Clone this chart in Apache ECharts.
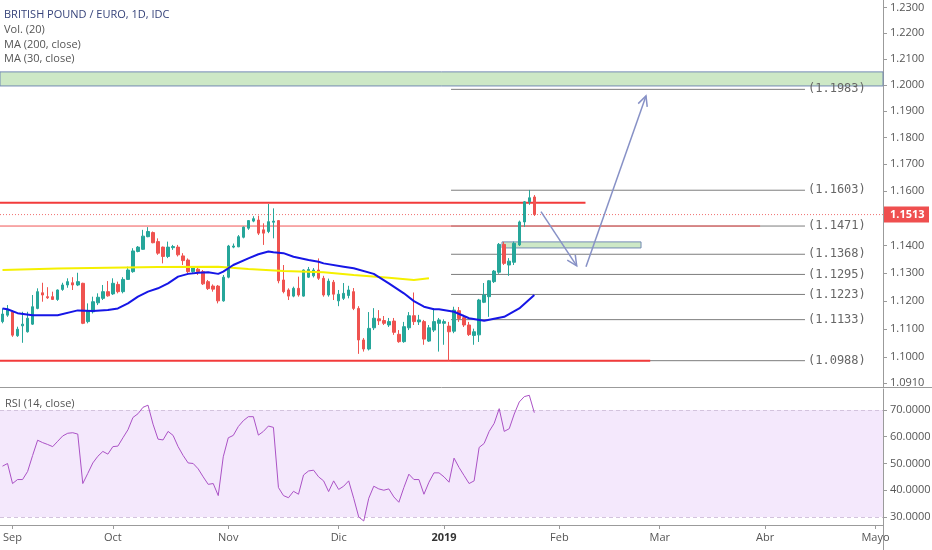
<!DOCTYPE html>
<html>
<head>
<meta charset="utf-8">
<script src="https://cdn.jsdelivr.net/npm/echarts@6/dist/echarts.min.js"></script>
<style>
html,body{margin:0;padding:0;background:#fff}
#chart{width:932px;height:550px}
</style>
</head>
<body>
<div id="chart"></div>
<script>
// daily GBP/EUR candles, one per weekday starting 2018-08-30
var opens = [1.1126,1.1149,1.1161,1.1076,1.1111,1.1090,1.1117,1.1173,1.1229,1.1215,
1.1215,1.1205,1.1241,1.1257,1.1265,1.1257,1.1263,1.1126,1.1161,1.1193,
1.1209,1.1233,1.1225,1.1259,1.1233,1.1277,1.1305,1.1378,1.1386,1.1432,
1.1447,1.1414,1.1394,1.1360,1.1392,1.1394,1.1362,1.1347,1.1305,1.1314,
1.1305,1.1269,1.1253,1.1253,1.1200,1.1285,1.1394,1.1395,1.1430,1.1463,
1.1489,1.1493,1.1457,1.1451,1.1485,1.1491,1.1275,1.1239,1.1217,1.1245,
1.1217,1.1285,1.1290,1.1311,1.1281,1.1221,1.1267,1.1200,1.1209,1.1219,
1.1233,1.1173,1.1061,1.1029,1.1104,1.1136,1.1130,1.1114,1.1128,1.1081,
1.1055,1.1104,1.1147,1.1125,1.1126,1.1057,1.1096,1.1120,1.1120,1.1110,
1.1092,1.1165,1.1140,1.1114,1.1077,1.1079,1.1195,1.1215,1.1269,1.1303,
1.1404,1.1329,1.1339,1.1402,1.1486,1.1560,1.1578];
var highs = [1.1173,1.1185,1.1167,1.1108,1.1161,1.1161,1.1221,1.1245,1.1265,1.1249,
1.1233,1.1241,1.1265,1.1281,1.1285,1.1301,1.1265,1.1191,1.1215,1.1227,
1.1257,1.1271,1.1281,1.1269,1.1285,1.1323,1.1390,1.1398,1.1457,1.1467,
1.1451,1.1426,1.1396,1.1414,1.1402,1.1402,1.1372,1.1353,1.1325,1.1325,
1.1311,1.1275,1.1259,1.1257,1.1293,1.1402,1.1407,1.1438,1.1469,1.1493,
1.1507,1.1509,1.1481,1.1552,1.1536,1.1493,1.1329,1.1245,1.1251,1.1287,
1.1313,1.1322,1.1318,1.1353,1.1290,1.1280,1.1275,1.1239,1.1264,1.1254,
1.1246,1.1181,1.1068,1.1160,1.1174,1.1167,1.1146,1.1139,1.1139,1.1096,
1.1125,1.1160,1.1230,1.1150,1.1132,1.1114,1.1174,1.1139,1.1134,1.1125,
1.1179,1.1178,1.1150,1.1125,1.1101,1.1207,1.1264,1.1275,1.1311,1.1409,
1.1413,1.1354,1.1414,1.1491,1.1563,1.1604,1.1585];
var lows = [1.1120,1.1143,1.1072,1.1072,1.1051,1.1087,1.1114,1.1170,1.1197,1.1207,
1.1203,1.1200,1.1236,1.1247,1.1239,1.1253,1.1117,1.1120,1.1155,1.1185,
1.1203,1.1215,1.1221,1.1227,1.1227,1.1275,1.1301,1.1375,1.1384,1.1430,
1.1408,1.1366,1.1335,1.1354,1.1384,1.1360,1.1329,1.1299,1.1301,1.1293,
1.1257,1.1239,1.1233,1.1191,1.1197,1.1281,1.1390,1.1394,1.1426,1.1457,
1.1485,1.1438,1.1402,1.1445,1.1426,1.1263,1.1227,1.1203,1.1213,1.1215,
1.1215,1.1282,1.1284,1.1275,1.1215,1.1215,1.1203,1.1181,1.1203,1.1209,
1.1167,1.1012,1.1020,1.1024,1.1096,1.1114,1.1114,1.1107,1.1079,1.1051,
1.1051,1.1096,1.1114,1.1114,1.1044,1.1054,1.1089,1.1020,1.1044,1.0988,
1.1085,1.1125,1.1107,1.1075,1.1044,1.1054,1.1192,1.1143,1.1264,1.1297,
1.1329,1.1290,1.1329,1.1398,1.1468,1.1549,1.1508];
var closes = [1.1153,1.1170,1.1078,1.1099,1.1117,1.1138,1.1179,1.1233,1.1221,1.1211,
1.1205,1.1239,1.1257,1.1269,1.1257,1.1269,1.1120,1.1165,1.1197,1.1213,
1.1233,1.1218,1.1263,1.1233,1.1277,1.1311,1.1380,1.1394,1.1434,1.1451,
1.1410,1.1372,1.1360,1.1394,1.1396,1.1366,1.1345,1.1305,1.1320,1.1305,
1.1261,1.1244,1.1242,1.1200,1.1285,1.1398,1.1398,1.1432,1.1467,1.1491,
1.1498,1.1445,1.1445,1.1487,1.1489,1.1272,1.1233,1.1217,1.1245,1.1221,
1.1311,1.1313,1.1311,1.1281,1.1221,1.1271,1.1224,1.1224,1.1227,1.1239,
1.1173,1.1061,1.1029,1.1102,1.1138,1.1129,1.1120,1.1126,1.1088,1.1055,
1.1108,1.1147,1.1126,1.1132,1.1064,1.1104,1.1126,1.1132,1.1126,1.1090,
1.1167,1.1137,1.1114,1.1080,1.1090,1.1203,1.1221,1.1272,1.1307,1.1404,
1.1335,1.1343,1.1408,1.1486,1.1560,1.1575,1.1513];

var rsiValues = [49,50,42.5,44,44,47,53,58.7,57.8,57.1,
56.3,58.3,60.3,61.3,61.5,61,42.5,46.3,50.2,52.7,
54.5,53.5,56.3,56.5,59.6,62.6,67.2,68.6,71,71.8,
64.7,59.1,58.8,62,60.5,56.3,53,50.2,50,48,
45,42.2,42.5,38,52.5,59.6,60.5,63.8,66,67.5,
67.5,60.6,62,64,63.5,41,38,37.2,39.6,38.5,
45.7,47.2,47.5,45,43.5,39.5,43.5,40.3,41.5,43.5,
37,30,28.5,37,41.5,40.5,40,40.5,37.5,35.5,
41,46,44,44,38.5,43,46.5,46.5,45,43,
52,48.5,45.5,42.5,43.5,56,57.5,62,65,70.5,
62,63,68.5,73,75,75.5,69];

// moving averages (bar index, value)
var ma30Bars = [0,1,3,6,11,15,18,21,23,25,27,29,31,33,35,37,39,41,43,44,46,49,51,53,54,56,58,61,63,64,68,70,74,77,80,82,84,86,87,90,93,96,100,103,106];
var ma30Vals = [1.1173,1.1170,1.1156,1.1149,1.1149,1.1166,1.1164,1.1167,1.1173,1.1191,1.1215,1.1233,1.1245,1.1263,1.1287,1.1297,1.1301,1.1303,1.1297,1.1305,1.1329,1.1353,1.1368,1.1378,1.1375,1.1372,1.1359,1.1347,1.1341,1.1335,1.1323,1.1317,1.1297,1.1263,1.1227,1.1199,1.1179,1.1170,1.1170,1.1161,1.1138,1.1129,1.1143,1.1173,1.1221];
var ma200Bars = [0,11,21,31,43,49,56,64,70,77,82,85];
var ma200Vals = [1.1311,1.1316,1.1319,1.1322,1.1323,1.1315,1.1307,1.1303,1.1293,1.1283,1.1275,1.1281];

var priceTicks = [1.091,1.10,1.11,1.12,1.13,1.14,1.16,1.17,1.18,1.19,1.20,1.21,1.22,1.23];
var rsiTicks = [30,40,50,60,70];

// drawings (anchors in bar units, prices)
var fibLevels = [1.1983,1.1603,1.1471,1.1368,1.1295,1.1223,1.1133,1.0988];
var fibFromBar = 89.9, fibToBar = 160.45, fibLabelBar = 161.05;
var redLevels = [1.1557,1.1471,1.0988];
var redToBar = [116.7,151.5,129.6];
var zoneTop = [1.2050,1.1413];
var zoneBottom = [1.1996,1.1391];
var zoneFrom = [0,100.06];
var zoneTo = [176,127.77];
var arrowStart = [[107.83,1.1524],[116.80,1.1323]];
var arrowEnd = [[114.95,1.1326],[128.76,1.1958]];

var monthNames = ['Ene','Feb','Mar','Abr','Mayo','Jun','Jul','Ago','Sep','Oct','Nov','Dic'];

var dates = [];
(function(){
  var d = new Date(2018, 7, 30);
  while (dates.length < 176) {
    var w = d.getDay();
    if (w > 0 && w < 6) dates.push(d.getFullYear() + '-' + (d.getMonth() + 1) + '-' + d.getDate());
    d.setDate(d.getDate() + 1);
  }
})();
var monthStart = dates.map(function(s, i){
  return i > 0 && s.split('-')[1] !== dates[i - 1].split('-')[1];
});

var candles = opens.map(function(o, i){ return [o, closes[i], lows[i], highs[i]]; });
var lastClose = closes[closes.length - 1];

var font = '"Open Sans", "Liberation Sans", sans-serif';
var axisGray = '#9b9b9b';

// fib lines first so the red lines sit on top of them
var hLines = [];
fibLevels.forEach(function(v){ hLines.push([fibFromBar, fibToBar, v, 2]); });
redLevels.forEach(function(v, i){ hLines.push([0, redToBar[i], v, i === 1 ? 1 : 0]); });
hLines.push([0, 176, lastClose, 3]);
var lineStyles = [
  {c:'#f23b3b', w:2, d:null},
  {c:'#f05555', w:1, d:null},
  {c:'#7d7d7d', w:1, d:null},
  {c:'#f07070', w:1, d:[1,2]}
];

var zones = zoneTop.map(function(t, i){ return [zoneFrom[i], zoneTo[i], t, zoneBottom[i]]; });
var arrows = arrowStart.map(function(s, i){ return [s[0], s[1], arrowEnd[i][0], arrowEnd[i][1]]; });

var myChart = echarts.init(document.getElementById('chart'));

option = {
  animation: false,
  backgroundColor: '#fff',
  grid: [
    {left:0, right:49, top:0, height:387, containLabel:false, outerBoundsMode:'none'},
    {left:0, right:49, top:389, height:136, containLabel:false, outerBoundsMode:'none'}
  ],
  xAxis: [
    {type:'category', gridIndex:0, data:dates, boundaryGap:true,
     axisLine:{show:true, onZero:false, lineStyle:{color:axisGray}}, axisTick:{show:false}, axisLabel:{show:false}, splitLine:{show:false}},
    {type:'value', gridIndex:0, min:0, max:176, show:false,
     axisLine:{onZero:false}, splitLine:{show:false}},
    {type:'category', gridIndex:1, data:dates, boundaryGap:true,
     axisLine:{show:true, onZero:false, lineStyle:{color:axisGray}},
     axisTick:{show:true, alignWithLabel:true, length:4, lineStyle:{color:axisGray},
       interval:function(i){ return monthStart[i]; }},
     axisLabel:{color:'#555', fontSize:11, fontFamily:font, margin:7,
       interval:function(i){ return monthStart[i]; },
       formatter:function(v){
         var p = v.split('-'); var m = +p[1] - 1;
         return m === 0 ? '{yr|' + p[0] + '}' : monthNames[m];
       },
       rich:{yr:{fontWeight:'bold', color:'#333', fontSize:11, fontFamily:font}}},
     splitLine:{show:false}}
  ],
  yAxis: [
    {type:'log', logBase:10, gridIndex:0, position:'right', min:1.0896, max:1.2330,
     axisLine:{show:true, onZero:false, lineStyle:{color:axisGray}},
     axisTick:{show:true, length:4, customValues:priceTicks, lineStyle:{color:axisGray}},
     minorTick:{show:false},
     axisLabel:{customValues:priceTicks, color:'#555', fontSize:11, fontFamily:font, margin:7,
       formatter:function(v){ return (+v).toFixed(4); }},
     splitLine:{show:false}},
    {type:'value', gridIndex:1, position:'right', min:27, max:77.85,
     axisLine:{show:true, onZero:false, lineStyle:{color:axisGray}},
     axisTick:{show:true, length:4, customValues:rsiTicks, lineStyle:{color:axisGray}},
     axisLabel:{customValues:rsiTicks, color:'#555', fontSize:11, fontFamily:font, margin:7,
       formatter:function(v){ return (+v).toFixed(4); }},
     splitLine:{show:false}}
  ],
  graphic: [
    {type:'text', left:4, top:9, style:{text:'BRITISH POUND / EURO, 1D, IDC', fill:'#36437a', fontSize:11, fontFamily:font}},
    {type:'text', left:4, top:24, style:{text:'Vol. (20)', fill:'#555', fontSize:11, fontFamily:font}},
    {type:'text', left:4, top:39, style:{text:'MA (200, close)', fill:'#555', fontSize:11, fontFamily:font}},
    {type:'text', left:4, top:53, style:{text:'MA (30, close)', fill:'#555', fontSize:11, fontFamily:font}},
    {type:'text', left:5, top:398, style:{text:'RSI (14, close)', fill:'#555', fontSize:11, fontFamily:font}},
    {type:'line', shape:{x1:883, y1:387.5, x2:932, y2:387.5}, style:{stroke:axisGray, lineWidth:1}},
    {type:'line', shape:{x1:883.5, y1:525, x2:883.5, y2:550}, style:{stroke:axisGray, lineWidth:1}}
  ],
  series: [
    {type:'custom', name:'zones', xAxisIndex:1, yAxisIndex:0, silent:true, z:1,
     encode:{x:[0,1], y:[2,3]}, data:zones,
     renderItem:function(params, api){
       var a = api.coord([api.value(0), api.value(2)]);
       var b = api.coord([api.value(1), api.value(3)]);
       return {type:'rect', shape:{x:a[0], y:a[1], width:b[0]-a[0], height:b[1]-a[1]},
               style:{fill:'#cde8c6', stroke:'#7389b3', lineWidth:1}};
     }},
    {type:'custom', name:'levels', xAxisIndex:1, yAxisIndex:0, silent:true, z:2,
     encode:{x:[0,1], y:2}, data:hLines,
     renderItem:function(params, api){
       var a = api.coord([api.value(0), api.value(2)]);
       var b = api.coord([api.value(1), api.value(2)]);
       var s = lineStyles[api.value(3)];
       return {type:'line', shape:{x1:a[0], y1:a[1], x2:b[0], y2:b[1]},
               style:{stroke:s.c, lineWidth:s.w, lineDash:s.d}};
     }},
    {type:'custom', name:'fibLabels', xAxisIndex:1, yAxisIndex:0, silent:true, z:3,
     encode:{x:0, y:1}, data:fibLevels.map(function(v){ return [fibLabelBar, v]; }),
     renderItem:function(params, api){
       var p = api.coord([api.value(0), api.value(1)]);
       return {type:'text', x:p[0], y:p[1],
               style:{text:'(' + api.value(1).toFixed(4) + ')', fill:'#666', fontSize:12,
                      fontFamily:'"DejaVu Sans Mono", monospace', verticalAlign:'middle', align:'left'}};
     }},
    {type:'candlestick', name:'GBPEUR', xAxisIndex:0, yAxisIndex:0, data:candles, z:5,
     barWidth:3,
     itemStyle:{color:'#26a69a', color0:'#ef5350', borderColor:'#26a69a', borderColor0:'#ef5350', borderWidth:1}},
    {type:'line', name:'MA 200', xAxisIndex:0, yAxisIndex:0, z:6, showSymbol:false, silent:true,
     data:ma200Bars.map(function(b, i){ return [b, ma200Vals[i]]; }),
     lineStyle:{color:'#f5f000', width:2}},
    {type:'line', name:'MA 30', xAxisIndex:0, yAxisIndex:0, z:6, showSymbol:false, silent:true,
     data:ma30Bars.map(function(b, i){ return [b, ma30Vals[i]]; }),
     lineStyle:{color:'#1616e6', width:2}},
    {type:'custom', name:'arrows', xAxisIndex:1, yAxisIndex:0, silent:true, z:7,
     encode:{x:[0,2], y:[1,3]}, data:arrows,
     renderItem:function(params, api){
       var a = api.coord([api.value(0), api.value(1)]);
       var b = api.coord([api.value(2), api.value(3)]);
       var ang = Math.atan2(b[1]-a[1], b[0]-a[0]);
       var L = 11, t = 0.45;
       var h1 = [b[0] - L*Math.cos(ang - t), b[1] - L*Math.sin(ang - t)];
       var h2 = [b[0] - L*Math.cos(ang + t), b[1] - L*Math.sin(ang + t)];
       var st = {stroke:'#8791c6', lineWidth:1.5, fill:null};
       return {type:'group', children:[
         {type:'line', shape:{x1:a[0], y1:a[1], x2:b[0], y2:b[1]}, style:st},
         {type:'polyline', shape:{points:[h1, b, h2]}, style:st}
       ]};
     }},
    {type:'custom', name:'lastPrice', xAxisIndex:1, yAxisIndex:0, silent:true, clip:false, z:10,
     encode:{x:0, y:1}, data:[[176, lastClose]],
     renderItem:function(params, api){
       var p = api.coord([api.value(0), api.value(1)]);
       return {type:'group', children:[
         {type:'rect', shape:{x:p[0]+1, y:p[1]-8, width:45, height:16}, style:{fill:'#ef4f4f'}},
         {type:'text', x:p[0]+7, y:p[1], style:{text:api.value(1).toFixed(4), fill:'#fff', fontSize:11,
           fontWeight:'bold', fontFamily:font, verticalAlign:'middle', align:'left'}}
       ]};
     }},
    {type:'line', name:'RSI', xAxisIndex:2, yAxisIndex:1, data:rsiValues, showSymbol:false, silent:true, z:5,
     lineStyle:{color:'#ab52c6', width:1},
     markArea:{silent:true, itemStyle:{color:'#f4e8fc'}, data:[[{yAxis:30},{yAxis:70}]]},
     markLine:{silent:true, symbol:'none', label:{show:false},
       lineStyle:{color:'#d3c3dd', width:1, type:[4,3]}, data:[{yAxis:70},{yAxis:30}]}}
  ]
};
myChart.setOption(option);
</script>
</body>
</html>
